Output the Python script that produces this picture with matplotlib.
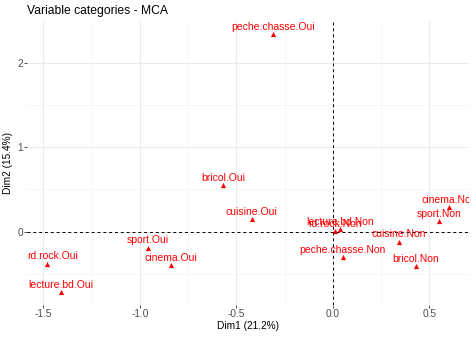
import matplotlib.pyplot as plt
from matplotlib.ticker import MultipleLocator

plt.rcParams['font.family'] = ['Liberation Sans', 'DejaVu Sans']

# coordonnees des modalites
categories = ['peche.chasse.Oui', 'bricol.Oui', 'cuisine.Oui', 'rd.rock.Non', 'lecture.bd.Non',
              'cinema.Non', 'sport.Non', 'cuisine.Non', 'peche.chasse.Non', 'bricol.Non',
              'sport.Oui', 'cinema.Oui', 'rd.rock.Oui', 'lecture.bd.Oui']
dim1 = [-0.31, -0.57, -0.42, 0.01, 0.035, 0.60, 0.55, 0.34, 0.05, 0.43, -0.96, -0.84, -1.48, -1.41]
dim2 = [2.34, 0.55, 0.15, 0.01, 0.03, 0.29, 0.12, -0.12, -0.30, -0.41, -0.19, -0.40, -0.38, -0.72]

fig = plt.figure(figsize=(4.74, 3.38), dpi=100)
ax = fig.add_axes([0.057, 0.097, 0.932, 0.84])

ax.scatter(dim1, dim2, marker='^', color='red', s=14, zorder=3, linewidths=0)

# l'etiquette de gauche est poussee vers l'interieur du cadre
decalage = {'rd.rock.Oui': 4}
for nom, x, y in zip(categories, dim1, dim2):
    ax.annotate(nom, (x, y), xytext=(decalage.get(nom, 0), 3), textcoords='offset points',
                ha='center', va='baseline', color='red', fontsize=7.5, zorder=4,
                annotation_clip=False, clip_on=True)

ax.axhline(0, color='black', linestyle='--', linewidth=0.7, dashes=(3, 3), zorder=2)
ax.axvline(0, color='black', linestyle='--', linewidth=0.7, dashes=(3, 3), zorder=2)

ax.set_xlim(-1.584, 0.704)
ax.set_ylim(-0.873, 2.49)
ax.xaxis.set_minor_locator(MultipleLocator(0.25))
ax.yaxis.set_major_locator(MultipleLocator(1))
ax.yaxis.set_minor_locator(MultipleLocator(0.5))
ax.set_xticks([-1.5, -1.0, -0.5, 0.0, 0.5])
ax.set_xticklabels(['-1.5', '-1.0', '-0.5', '0.0', '0.5'])

ax.grid(True, which='major', color='#EBEBEB', linewidth=0.8)
ax.grid(True, which='minor', color='#F3F3F3', linewidth=0.5)
ax.set_axisbelow(True)
for s in ax.spines.values():
    s.set_visible(False)
ax.tick_params(which='major', length=2, width=0.6, color='#333333', labelcolor='#4D4D4D',
               labelsize=7.3, pad=1)
ax.tick_params(which='minor', length=0)

ax.set_xlabel('Dim1 (21.2%)', fontsize=7.3, labelpad=1.5)
ax.set_ylabel('Dim2 (15.4%)', fontsize=7.3, labelpad=3)
fig.text(0.057, 0.968, 'Variable categories - MCA', fontsize=8.7, va='center', ha='left')

fig.savefig('out.png', dpi=100)
